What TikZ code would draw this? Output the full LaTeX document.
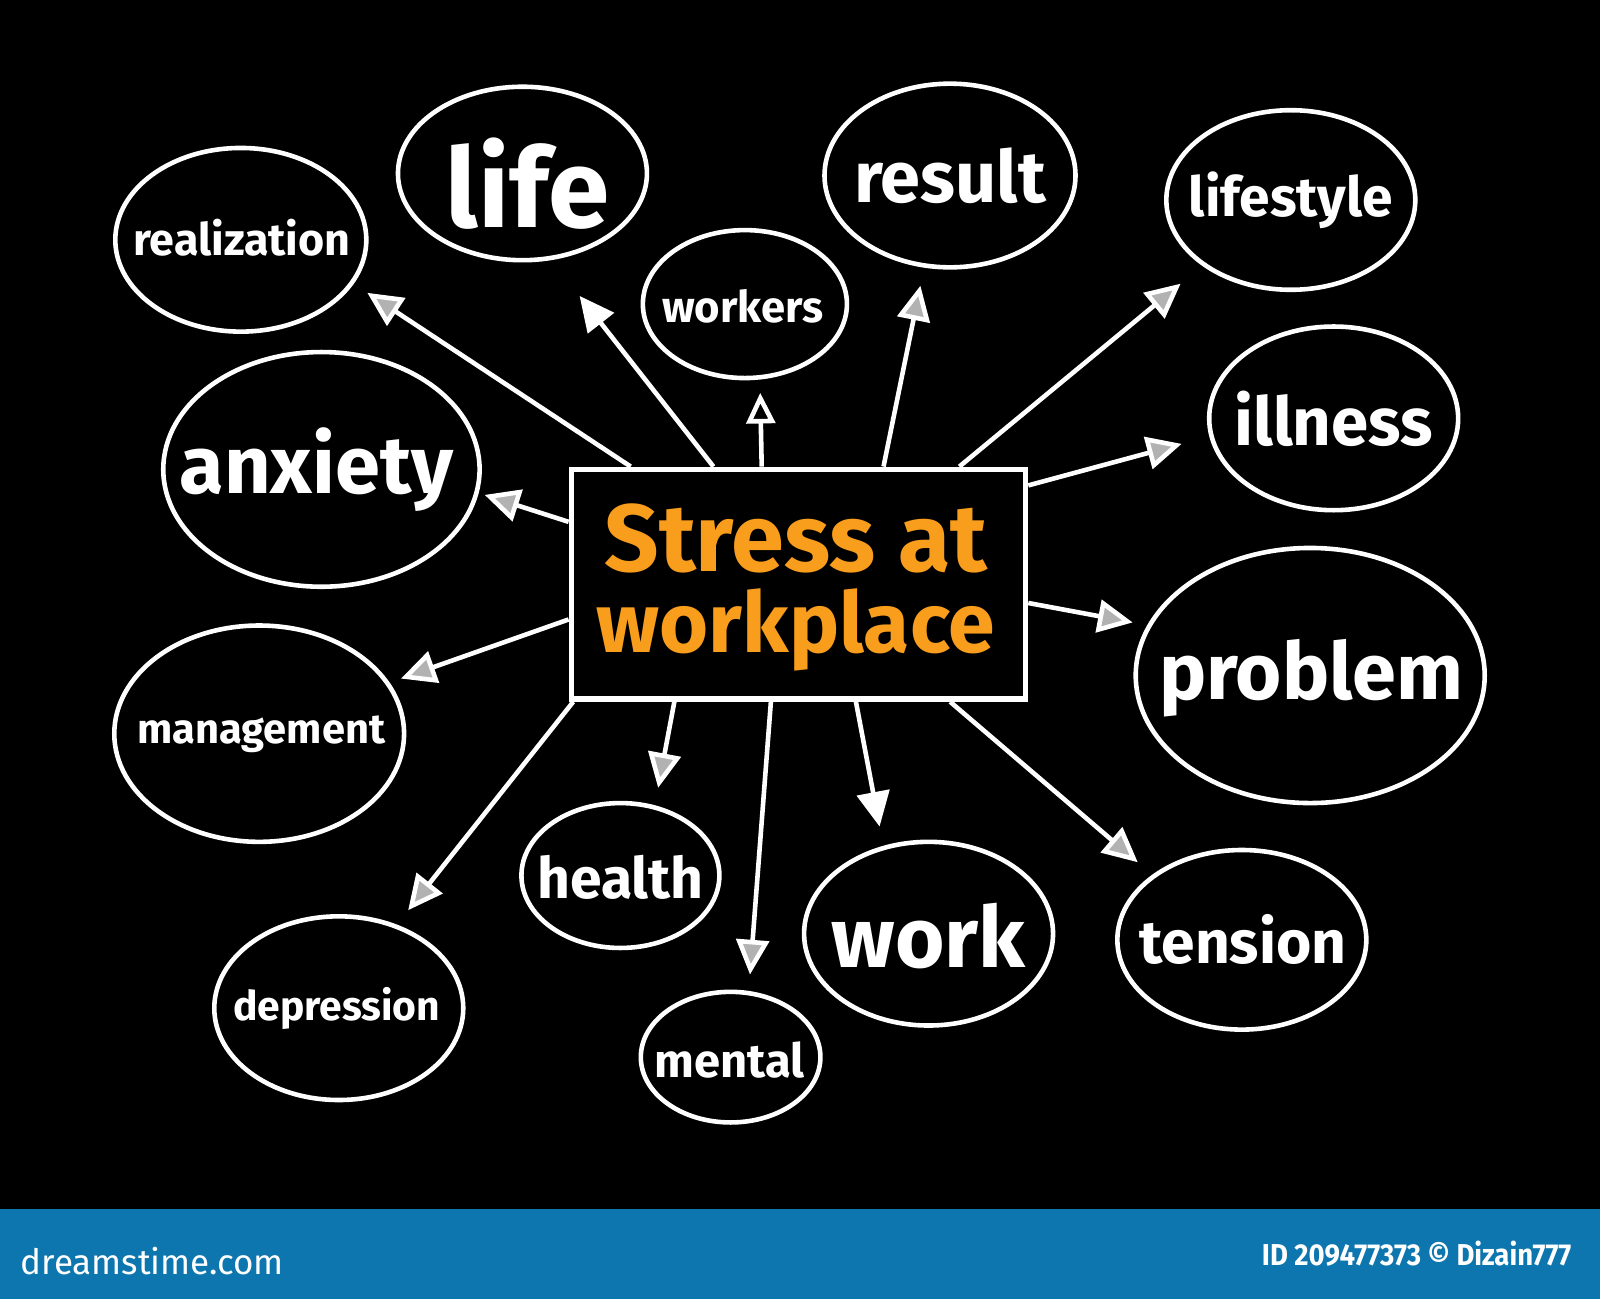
\documentclass[tikz,border=0pt]{standalone}
\usepackage{fontspec}
\setmainfont{Fira Sans}
\usepackage{graphicx}
\usetikzlibrary{arrows.meta,shapes.geometric,calc}
\definecolor{barblue}{HTML}{0E76AE}
\definecolor{orng}{HTML}{F99D1C}
\newcommand{\wtxt}[2]{\resizebox{#1pt}{!}{\bfseries #2}}
\begin{document}
\begin{tikzpicture}[x=1pt,y=-1pt,
  bub/.style={ellipse,draw=white,line width=4.5pt,inner sep=0pt},
  lbl/.style={text=white,inner sep=0pt},
  arr/.style={draw=white,line width=4.5pt,-{Triangle[length=34pt,width=32pt,fill=white!70!black]}},
  arrsolid/.style={draw=white,line width=4.5pt,-{Triangle[length=34pt,width=32pt,fill=white]}},
  arropen/.style={draw=white,line width=4.5pt,-{Triangle[length=30pt,width=28pt,fill=black]}},
]
\useasboundingbox (0,0) rectangle (1568,1273);
\fill[black] (0,0) rectangle (1568,1273);
\fill[barblue] (0,1185) rectangle (1568,1273);

% central box
\node[draw=white,line width=5.5pt,minimum width=445pt,minimum height=225pt,inner sep=0pt] (box) at (782.5,572.5) {};
\node[text=orng,inner sep=0pt] (title1) at (780,528) {\wtxt{375}{Stress at}};
\node[text=orng,inner sep=0pt] (title2) at (780,617) {\wtxt{390}{workplace}};

% bubbles
\node[bub,minimum width=246pt,minimum height=180pt] (realization) at (236,235) {};
\node[bub,minimum width=244pt,minimum height=170pt] (life) at (512,170) {};
\node[bub,minimum width=200pt,minimum height=145pt] (workers) at (730,298) {};
\node[bub,minimum width=246pt,minimum height=180pt] (result) at (931,172) {};
\node[bub,minimum width=244pt,minimum height=176pt] (lifestyle) at (1265,196) {};
\node[bub,minimum width=244pt,minimum height=180pt] (illness) at (1307,410) {};
\node[bub,minimum width=342pt,minimum height=250pt] (problem) at (1284,662) {};
\node[bub,minimum width=244pt,minimum height=176pt] (tension) at (1217,921) {};
\node[bub,minimum width=244pt,minimum height=180pt] (work) at (910,915) {};
\node[bub,minimum width=176pt,minimum height=128pt] (mental) at (716,1036) {};
\node[bub,minimum width=194pt,minimum height=142pt] (health) at (608,858) {};
\node[bub,minimum width=244pt,minimum height=180pt] (depression) at (332,988) {};
\node[bub,minimum width=284pt,minimum height=212pt] (management) at (254,719) {};
\node[bub,minimum width=310pt,minimum height=230pt] (anxiety) at (315,460) {};

% labels
\node[lbl] (lRealization) at ($(realization.center)+(1,-2)$) {\wtxt{213}{realization}};
\node[lbl] (lLife) at ($(life.center)+(5,10)$) {\wtxt{160}{life}};
\node[lbl] (lWorkers) at ($(workers.center)+(-2,2)$) {\wtxt{158}{workers}};
\node[lbl] (lResult) at ($(result.center)+(0,0)$) {\wtxt{188}{result}};
\node[lbl] (lLifestyle) at ($(lifestyle.center)+(0,0)$) {\wtxt{200}{lifestyle}};
\node[lbl] (lIllness) at ($(illness.center)+(0,0)$) {\wtxt{195}{illness}};
\node[lbl] (lProblem) at ($(problem.center)+(1,3)$) {\wtxt{298}{problem}};
\node[lbl] (lTension) at ($(tension.center)+(1,0)$) {\wtxt{203}{tension}};
\node[lbl] (lWork) at ($(work.center)+(0,2)$) {\wtxt{190}{work}};
\node[lbl] (lMental) at ($(mental.center)+(-1,3)$) {\wtxt{147}{mental}};
\node[lbl] (lHealth) at ($(health.center)+(0,2)$) {\wtxt{163}{health}};
\node[lbl] (lDepression) at ($(depression.center)+(-2,0)$) {\wtxt{203}{depression}};
\node[lbl] (lManagement) at ($(management.center)+(2,1)$) {\wtxt{243}{management}};
\node[lbl] (lAnxiety) at ($(anxiety.center)+(-5,0)$) {\wtxt{268}{anxiety}};

% arrow tips
\coordinate (tRealization) at (360,287);
\coordinate (tLife) at (568,290);
\coordinate (tWorkers) at (745,385);
\coordinate (tResult) at (902,280);
\coordinate (tLifestyle) at (1157,278);
\coordinate (tIllness) at (1158,435);
\coordinate (tProblem) at (1110,610);
\coordinate (tTension) at (1115,845);
\coordinate (tWork) at (862,810);
\coordinate (tMental) at (735,955);
\coordinate (tHealth) at (645,772);
\coordinate (tDepression) at (400,892);
\coordinate (tManagement) at (393,665);
\coordinate (tAnxiety) at (475,485);

% arrows
\draw[arr] ($(box.north west)!0.135!(box.north east)$) -- (tRealization);
\draw[arrsolid] ($(box.north west)!0.315!(box.north east)$) -- (tLife);
\draw[arropen] ($(box.north west)!0.42!(box.north east)$) -- (tWorkers);
\draw[arr] ($(box.north west)!0.685!(box.north east)$) -- (tResult);
\draw[arr] ($(box.north west)!0.85!(box.north east)$) -- (tLifestyle);
\draw[arr] ($(box.north east)!0.08!(box.south east)$) -- (tIllness);
\draw[arr] ($(box.north east)!0.58!(box.south east)$) -- (tProblem);
\draw[arr] ($(box.south west)!0.83!(box.south east)$) -- (tTension);
\draw[arrsolid] ($(box.south west)!0.625!(box.south east)$) -- (tWork);
\draw[arr] ($(box.south west)!0.44!(box.south east)$) -- (tMental);
\draw[arr] ($(box.south west)!0.23!(box.south east)$) -- (tHealth);
\draw[arr] ($(box.south west)!0.01!(box.south east)$) -- (tDepression);
\draw[arr] ($(box.north west)!0.65!(box.south west)$) -- (tManagement);
\draw[arr] ($(box.north west)!0.235!(box.south west)$) -- (tAnxiety);

% footer
\node[text=white,anchor=west,inner sep=0pt] (site) at (20,1236) {\resizebox{258pt}{!}{dreamstime.com}};
\node[text=white,anchor=east,inner sep=0pt] (credit) at (1540,1229) {\resizebox{303pt}{24pt}{\bfseries ID 209477373 © Dizain777}};
\end{tikzpicture}
\end{document}
